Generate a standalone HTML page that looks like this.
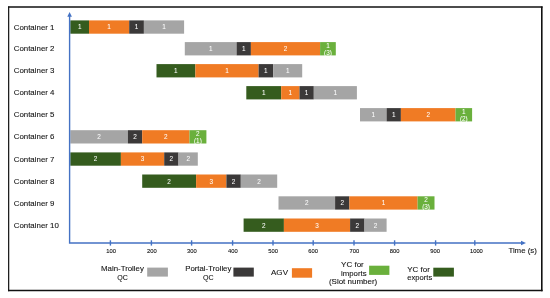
<!DOCTYPE html>
<html><head><meta charset="utf-8"><title>Gantt chart</title>
<style>
html,body{margin:0;padding:0;background:#fff;}
body{width:550px;height:298px;overflow:hidden;}
svg{display:block;font-family:"Liberation Sans",sans-serif;}
.lab{font-size:7.9px;fill:#111;stroke:#111;stroke-width:0.09px;}
.num{font-size:6.4px;fill:#fff;stroke:#fff;stroke-width:0.04px;text-anchor:middle;}
.tick{font-size:5.8px;fill:#111;stroke:#111;stroke-width:0.1px;text-anchor:middle;}
.leg{font-size:7.95px;fill:#111;stroke:#111;stroke-width:0.09px;}
</style></head><body>
<svg width="550" height="298" viewBox="0 0 550 298">
<rect x="0" y="0" width="550" height="298" fill="#fff"/>

<path d="M8.66 6.4 V291.2" stroke="#111" stroke-width="1.2"/><path d="M8.06 7 H542.6" stroke="#111" stroke-width="1.3"/><path d="M541.8 6.4 V291.2" stroke="#111" stroke-width="1.6"/><path d="M8.06 290.5 H542.6" stroke="#111" stroke-width="1.5"/>
<text class="lab" x="13.7" y="29.6">Container 1</text>
<rect x="70.3" y="20.4" width="18.7" height="13.3" fill="#355C1E"/>
<text class="num" x="79.7" y="29.3">1</text>
<rect x="89.0" y="20.4" width="40.2" height="13.3" fill="#F07B24"/>
<text class="num" x="109.1" y="29.3">1</text>
<rect x="129.2" y="20.4" width="14.7" height="13.3" fill="#3B3939"/>
<text class="num" x="136.6" y="29.3">1</text>
<rect x="143.9" y="20.4" width="40.2" height="13.3" fill="#A5A5A5"/>
<text class="num" x="164.0" y="29.3">1</text>
<text class="lab" x="13.7" y="51.3">Container 2</text>
<rect x="184.8" y="42.1" width="51.8" height="13.3" fill="#A5A5A5"/>
<text class="num" x="210.7" y="51.1">1</text>
<rect x="236.6" y="42.1" width="14.3" height="13.3" fill="#3B3939"/>
<text class="num" x="243.8" y="51.1">1</text>
<rect x="250.9" y="42.1" width="69.2" height="13.3" fill="#F07B24"/>
<text class="num" x="285.5" y="51.1">2</text>
<rect x="320.1" y="42.1" width="15.7" height="13.3" fill="#6AB03C"/>
<text class="num" x="328.0" y="47.6">1</text>
<text class="num" x="328.0" y="54.8">(3)</text>
<text class="lab" x="13.7" y="73.3">Container 3</text>
<rect x="156.5" y="64.1" width="38.9" height="13.3" fill="#355C1E"/>
<text class="num" x="175.9" y="73.1">1</text>
<rect x="195.4" y="64.1" width="63.2" height="13.3" fill="#F07B24"/>
<text class="num" x="227.0" y="73.1">1</text>
<rect x="258.6" y="64.1" width="14.6" height="13.3" fill="#3B3939"/>
<text class="num" x="265.9" y="73.1">1</text>
<rect x="273.2" y="64.1" width="29.0" height="13.3" fill="#A5A5A5"/>
<text class="num" x="287.7" y="73.1">1</text>
<text class="lab" x="13.7" y="95.3">Container 4</text>
<rect x="246.3" y="86.1" width="34.9" height="13.3" fill="#355C1E"/>
<text class="num" x="263.8" y="95.1">1</text>
<rect x="281.2" y="86.1" width="18.3" height="13.3" fill="#F07B24"/>
<text class="num" x="290.4" y="95.1">1</text>
<rect x="299.5" y="86.1" width="14.3" height="13.3" fill="#3B3939"/>
<text class="num" x="306.6" y="95.1">1</text>
<rect x="313.8" y="86.1" width="43.1" height="13.3" fill="#A5A5A5"/>
<text class="num" x="335.4" y="95.1">1</text>
<text class="lab" x="13.7" y="117.3">Container 5</text>
<rect x="360.0" y="108.1" width="26.6" height="13.3" fill="#A5A5A5"/>
<text class="num" x="373.3" y="117.1">1</text>
<rect x="386.6" y="108.1" width="14.3" height="13.3" fill="#3B3939"/>
<text class="num" x="393.8" y="117.1">1</text>
<rect x="400.9" y="108.1" width="54.6" height="13.3" fill="#F07B24"/>
<text class="num" x="428.2" y="117.1">2</text>
<rect x="455.5" y="108.1" width="16.6" height="13.3" fill="#6AB03C"/>
<text class="num" x="463.8" y="113.6">1</text>
<text class="num" x="463.8" y="120.8">(2)</text>
<text class="lab" x="13.7" y="139.4">Container 6</text>
<rect x="70.3" y="130.2" width="57.6" height="13.3" fill="#A5A5A5"/>
<text class="num" x="99.1" y="139.1">2</text>
<rect x="127.9" y="130.2" width="14.3" height="13.3" fill="#3B3939"/>
<text class="num" x="135.1" y="139.1">2</text>
<rect x="142.2" y="130.2" width="47.3" height="13.3" fill="#F07B24"/>
<text class="num" x="165.8" y="139.1">2</text>
<rect x="189.5" y="130.2" width="16.9" height="13.3" fill="#6AB03C"/>
<text class="num" x="197.9" y="135.7">2</text>
<text class="num" x="197.9" y="142.8">(1)</text>
<text class="lab" x="13.7" y="161.7">Container 7</text>
<rect x="70.3" y="152.4" width="50.6" height="13.3" fill="#355C1E"/>
<text class="num" x="95.6" y="161.4">2</text>
<rect x="120.9" y="152.4" width="43.3" height="13.3" fill="#F07B24"/>
<text class="num" x="142.6" y="161.4">3</text>
<rect x="164.2" y="152.4" width="14.3" height="13.3" fill="#3B3939"/>
<text class="num" x="171.3" y="161.4">2</text>
<rect x="178.5" y="152.4" width="19.3" height="13.3" fill="#A5A5A5"/>
<text class="num" x="188.2" y="161.4">2</text>
<text class="lab" x="13.7" y="183.8">Container 8</text>
<rect x="142.2" y="174.5" width="53.9" height="13.3" fill="#355C1E"/>
<text class="num" x="169.1" y="183.5">2</text>
<rect x="196.1" y="174.5" width="30.3" height="13.3" fill="#F07B24"/>
<text class="num" x="211.2" y="183.5">3</text>
<rect x="226.4" y="174.5" width="14.4" height="13.3" fill="#3B3939"/>
<text class="num" x="233.6" y="183.5">2</text>
<rect x="240.8" y="174.5" width="36.4" height="13.3" fill="#A5A5A5"/>
<text class="num" x="259.0" y="183.5">2</text>
<text class="lab" x="13.7" y="205.6">Container 9</text>
<rect x="278.5" y="196.3" width="56.6" height="13.3" fill="#A5A5A5"/>
<text class="num" x="306.8" y="205.3">2</text>
<rect x="335.1" y="196.3" width="14.3" height="13.3" fill="#3B3939"/>
<text class="num" x="342.2" y="205.3">2</text>
<rect x="349.4" y="196.3" width="68.2" height="13.3" fill="#F07B24"/>
<text class="num" x="383.5" y="205.3">1</text>
<rect x="417.6" y="196.3" width="16.9" height="13.3" fill="#6AB03C"/>
<text class="num" x="426.1" y="201.8">2</text>
<text class="num" x="426.1" y="209.0">(3)</text>
<text class="lab" x="13.7" y="227.8">Container 10</text>
<rect x="243.6" y="218.5" width="40.3" height="13.3" fill="#355C1E"/>
<text class="num" x="263.8" y="227.5">2</text>
<rect x="283.9" y="218.5" width="66.2" height="13.3" fill="#F07B24"/>
<text class="num" x="317.0" y="227.5">3</text>
<rect x="350.1" y="218.5" width="14.4" height="13.3" fill="#3B3939"/>
<text class="num" x="357.3" y="227.5">2</text>
<rect x="364.5" y="218.5" width="22.1" height="13.3" fill="#A5A5A5"/>
<text class="num" x="375.6" y="227.5">2</text>
<path d="M69.6 16 V243.0 H522" fill="none" stroke="#4472C4" stroke-width="1.4"/>
<path d="M69.6 12 L67.3 16.7 H71.9 Z" fill="#4472C4"/>
<path d="M526 243.0 L521 240.7 V245.3 Z" fill="#4472C4"/>
<path d="M110.4 240.3 V245.6" stroke="#4472C4" stroke-width="1.4"/>
<text class="tick" x="111.2" y="252.7">100</text>
<path d="M151.4 240.3 V245.6" stroke="#4472C4" stroke-width="1.4"/>
<text class="tick" x="151.8" y="252.7">200</text>
<path d="M191.6 240.3 V245.6" stroke="#4472C4" stroke-width="1.4"/>
<text class="tick" x="191.8" y="252.7">300</text>
<path d="M232.6 240.3 V245.6" stroke="#4472C4" stroke-width="1.4"/>
<text class="tick" x="232.8" y="252.7">400</text>
<path d="M273.0 240.3 V245.6" stroke="#4472C4" stroke-width="1.4"/>
<text class="tick" x="273.2" y="252.7">500</text>
<path d="M313.2 240.3 V245.6" stroke="#4472C4" stroke-width="1.4"/>
<text class="tick" x="313.1" y="252.7">600</text>
<path d="M354.0 240.3 V245.6" stroke="#4472C4" stroke-width="1.4"/>
<text class="tick" x="354.4" y="252.7">700</text>
<path d="M394.6 240.3 V245.6" stroke="#4472C4" stroke-width="1.4"/>
<text class="tick" x="394.6" y="252.7">800</text>
<path d="M435.6 240.3 V245.6" stroke="#4472C4" stroke-width="1.4"/>
<text class="tick" x="435.2" y="252.7">900</text>
<path d="M474.8 240.3 V245.6" stroke="#4472C4" stroke-width="1.4"/>
<text class="tick" x="476.4" y="252.7">1000</text>
<text class="lab" x="508.4" y="252.9" textLength="28.4" style="font-size:7.9px">Time (s)</text>
<text class="leg" x="101" y="271.4" textLength="42.9" lengthAdjust="spacingAndGlyphs">Main-Trolley</text>
<text class="leg" x="117.3" y="280.3" textLength="10.6" lengthAdjust="spacingAndGlyphs">QC</text>
<rect x="147.2" y="267.6" width="20.7" height="9" fill="#A5A5A5"/>
<text class="leg" x="185.2" y="271.4" textLength="46.2" lengthAdjust="spacingAndGlyphs">Portal-Trolley</text>
<text class="leg" x="202.9" y="280.3" textLength="10.6" lengthAdjust="spacingAndGlyphs">QC</text>
<rect x="233.4" y="267.6" width="20.4" height="9" fill="#3B3939"/>
<text class="leg" x="271" y="275.2" textLength="17.0" lengthAdjust="spacingAndGlyphs">AGV</text>
<rect x="291.9" y="268.2" width="20.2" height="9.5" fill="#F07B24"/>
<text class="leg" x="341.1" y="267.2" textLength="22.7" lengthAdjust="spacingAndGlyphs">YC for</text>
<text class="leg" x="341.1" y="275.6" textLength="25.5" lengthAdjust="spacingAndGlyphs">imports</text>
<text class="leg" x="328.9" y="283.6" textLength="48.4" lengthAdjust="spacingAndGlyphs">(Slot number)</text>
<rect x="369.1" y="265.7" width="20.3" height="9.2" fill="#6AB03C"/>
<text class="leg" x="407.3" y="271.8" textLength="22.6" lengthAdjust="spacingAndGlyphs">YC for</text>
<text class="leg" x="407.3" y="280.2" textLength="24.9" lengthAdjust="spacingAndGlyphs">exports</text>
<rect x="433.3" y="267.7" width="20.6" height="8.9" fill="#355C1E"/>
</svg></body></html>
